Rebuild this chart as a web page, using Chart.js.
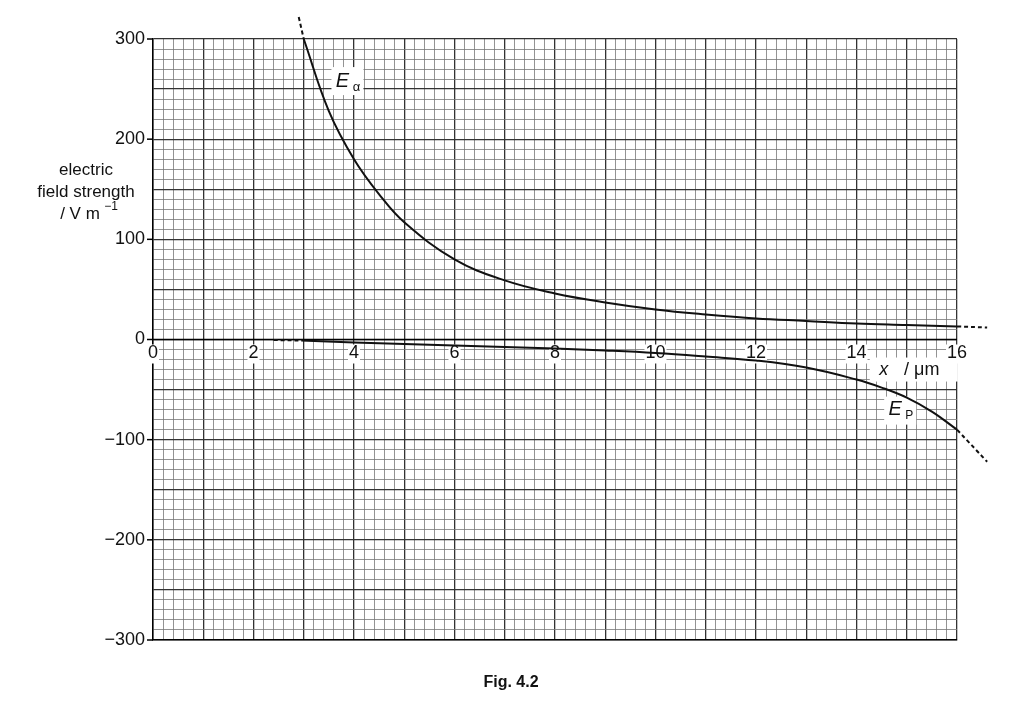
<!DOCTYPE html>
<html><head><meta charset="utf-8">
<script src="https://cdn.jsdelivr.net/npm/chart.js@4/dist/chart.umd.min.js"></script>
<style>body{margin:0;background:#fff}#w{position:relative;width:1022px;height:720px}</style>
</head><body><div id="w"><canvas id="c" width="1022" height="720"></canvas></div>
<script>
const xTickLabels=[0,2,4,6,8,10,12,14,16];
const yTickLabels=[300,200,100,0,-100,-200,-300];
const eAlphaX=[3,3.5,4,4.5,5,6,7,8,9,10,11,12,13,14,15,16];
const eAlphaY=[300,228,180,145,117,80,59,46,37,30,25,21,18.5,16,14.5,13];
const eAlphaDashX=[2.9,3];
const eAlphaDashY=[322,300];
const eAlphaDash2X=[16,16.6];
const eAlphaDash2Y=[13,12];
const ePX=[2.95,4,5,6,7,8,9,10,11,12,13,14,14.5,15,15.5,16];
const ePY=[-1,-3,-4.5,-6,-7.5,-9,-11,-13.5,-17,-21,-28,-40,-48,-58,-72,-90];
const ePDashX=[2.4,2.95];
const ePDashY=[-0.5,-1];
const ePDash2X=[16,16.6];
const ePDash2Y=[-90,-122];
const pts=(xs,ys)=>xs.map((x,i)=>({x,y:ys[i]}));
const line=(d,dash)=>({data:d,borderColor:'#111',borderWidth:2,pointRadius:0,tension:0.4,borderDash:dash||[],clip:false,fill:false,showLine:true});
const F='Arial, "Liberation Sans"';
function boxes(ch){const xs=ch.scales.x,ys=ch.scales.y;return{
 ax:xs.getPixelForValue(3.85),ay:ys.getPixelForValue(258),
 bx:xs.getPixelForValue(14.85),by:ys.getPixelForValue(-70),
 lx:xs.getPixelForValue(15.1),ly:ys.getPixelForValue(-30)};}
const overlay={id:'ov',
 beforeDatasetsDraw(ch){const c=ch.ctx,xs=ch.scales.x,ys=ch.scales.y,b=boxes(ch);
  c.save();c.fillStyle='#fff';
  c.fillRect(b.ax-15,b.ay-14,32,28);c.fillRect(b.bx-15,b.by-13,32,28);c.fillRect(b.lx-42,b.ly-12,88,24);
  c.font='18px '+F;
  const y0=ys.getPixelForValue(0)+5;
  xTickLabels.forEach(v=>{const px=xs.getPixelForValue(v);const w=c.measureText(String(v)).width;c.fillRect(px-w/2-1,y0,w+2,19);});
  c.strokeStyle='#000';c.lineWidth=1.5;
  c.beginPath();c.moveTo(xs.left,ys.getPixelForValue(0));c.lineTo(xs.right,ys.getPixelForValue(0));c.stroke();
  c.restore();},
 afterDraw(ch){
 const c=ch.ctx,xs=ch.scales.x,ys=ch.scales.y,b=boxes(ch);
 c.save();c.strokeStyle='#000';c.lineWidth=1.5;
 c.font='18px '+F;c.fillStyle='#111';
 c.textAlign='center';c.textBaseline='top';
 const y0=ys.getPixelForValue(0)+5;
 xTickLabels.forEach(v=>c.fillText(String(v),xs.getPixelForValue(v),y0));
 c.textAlign='right';c.textBaseline='middle';
 yTickLabels.forEach(v=>{const py=ys.getPixelForValue(v);c.fillText(v<0?'\u2212'+(-v):String(v),xs.left-8,py);
  c.beginPath();c.moveTo(xs.left-6,py);c.lineTo(xs.left,py);c.stroke();});
 c.textAlign='center';
 c.font='italic 18px '+F;c.fillText('x',b.lx-28,b.ly);c.font='18px '+F;c.fillText('/ \u03bcm',b.lx+10,b.ly);
 c.font='17px '+F;
 c.fillText('electric',86,170);c.fillText('field strength',86,192);
 c.fillText('/ V m',80,214);c.font='12px '+F;c.fillText('\u22121',111,207);
 c.font='italic 20px '+F;c.fillText('E',b.ax-4,b.ay);c.font='13px '+F;c.fillText('\u03b1',b.ax+10,b.ay+6);
 c.font='italic 20px '+F;c.fillText('E',b.bx-4,b.by);c.font='12px '+F;c.fillText('P',b.bx+10,b.by+6);
 c.font='bold 16px '+F;c.fillText('Fig. 4.2',511,683);
 c.restore();
}};
new Chart(document.getElementById('c'),{type:'scatter',
 data:{datasets:[line(pts(eAlphaX,eAlphaY)),line(pts(eAlphaDashX,eAlphaDashY),[4,3]),line(pts(eAlphaDash2X,eAlphaDash2Y),[4,3]),
  line(pts(ePX,ePY)),line(pts(ePDashX,ePDashY),[4,3]),line(pts(ePDash2X,ePDash2Y),[4,3])]},
 options:{responsive:false,animation:false,layout:{padding:{left:153,top:39,right:65,bottom:80}},
  plugins:{legend:{display:false},tooltip:{enabled:false}},
  scales:{
   x:{type:'linear',min:0,max:16,border:{display:true,color:'#000',width:1.5},
    ticks:{display:false},
    afterBuildTicks:s=>{s.ticks=[];for(let i=0;i<=80;i++)s.ticks.push({value:i*0.2});},
    grid:{drawTicks:false,color:c=>(Math.round(c.tick.value*5)%5===0)?'#333':'#777',lineWidth:c=>(Math.round(c.tick.value*5)%5===0)?1.3:0.8}},
   y:{type:'linear',min:-300,max:300,border:{display:true,color:'#000',width:1.5},
    ticks:{display:false},
    afterBuildTicks:s=>{s.ticks=[];for(let i=-30;i<=30;i++)s.ticks.push({value:i*10});},
    grid:{drawTicks:false,color:c=>(Math.round(c.tick.value)%50===0)?'#333':'#777',lineWidth:c=>(Math.round(c.tick.value)%50===0)?1.3:0.8}}
  }},
 plugins:[overlay]});
</script></body></html>
